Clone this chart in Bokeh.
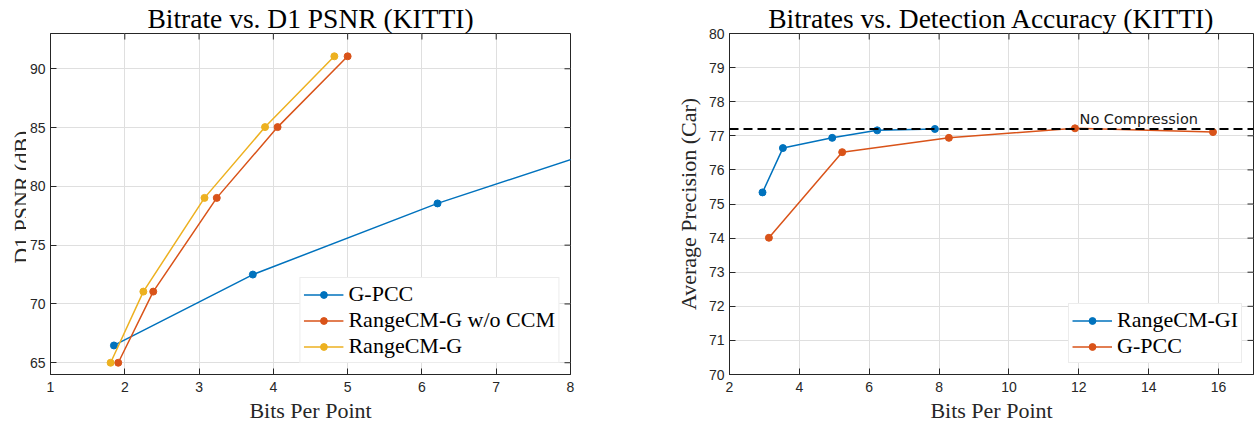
from math import pi
from bokeh.plotting import figure
from bokeh.models import FixedTicker, Label, Legend, LegendItem, Span
from bokeh.layouts import row
from bokeh.embed import file_html
from bokeh.resources import INLINE

# ---------------- data: left chart (Bitrate vs. D1 PSNR) ----------------
left_xticks = [1, 2, 3, 4, 5, 6, 7, 8]
left_yticks = [65, 70, 75, 80, 85, 90]

bpp_gpcc = [1.854, 3.724, 6.21, 10.0]
psnr_gpcc = [66.47, 72.50, 78.55, 86.43]

bpp_noccm = [1.912, 2.383, 3.238, 4.057, 5.00]
psnr_noccm = [65.0, 71.05, 79.02, 85.04, 91.06]

bpp_rcmg = [1.809, 2.250, 3.073, 3.888, 4.821]
psnr_rcmg = [65.0, 71.05, 79.02, 85.04, 91.06]

# ---------------- data: right chart (Bitrates vs. Detection Accuracy) ----------------
right_xticks = [2, 4, 6, 8, 10, 12, 14, 16]
right_yticks = [70, 71, 72, 73, 74, 75, 76, 77, 78, 79, 80]

bpp_gi = [2.945, 3.529, 4.94, 6.228, 7.88]
ap_gi = [75.34, 76.64, 76.94, 77.16, 77.20]

bpp_gpcc_r = [3.128, 5.226, 8.28, 11.89, 15.84]
ap_gpcc_r = [74.01, 76.52, 76.94, 77.22, 77.11]

no_compression_ap = 77.2

BLUE = "#0072BD"
ORANGE = "#D95319"
YELLOW = "#EDB120"
AXC = "#262626"
SERIF = "Liberation Serif"
SANS = "Liberation Sans"
H = 425
LAB_W = 26


def make_fig(title, xlabel, ylabel, xr, yr, xticks, yticks, width, bl, br):
    p = figure(width=width, height=H, x_range=xr, y_range=yr,
               min_border_left=bl, min_border_right=br, min_border_top=31,
               min_border_bottom=47, output_backend="svg", toolbar_location=None,
               background_fill_color="white", border_fill_color="white")
    p.title.text = title
    p.title.text_font = SERIF
    p.title.text_font_size = "27.5px"
    p.title.text_font_style = "normal"
    p.title.text_color = "#000000"
    p.title.align = "center"
    p.title.standoff = 0
    p.outline_line_color = AXC
    p.outline_line_width = 1
    for ax, ticks, lab, std in ((p.xaxis[0], xticks, xlabel, 7),
                                (p.yaxis[0], yticks, ylabel, 5)):
        ax.ticker = FixedTicker(ticks=ticks)
        ax.major_tick_in = 6
        ax.major_tick_out = 0
        ax.minor_tick_line_color = None
        ax.axis_line_color = AXC
        ax.major_tick_line_color = AXC
        ax.major_label_text_font = SANS
        ax.major_label_text_font_size = "14px"
        ax.major_label_text_color = AXC
        ax.major_label_standoff = std
        if lab:
            ax.axis_label = lab
            ax.axis_label_text_font = SERIF
            ax.axis_label_text_font_size = "22px"
            ax.axis_label_text_font_style = "normal"
            ax.axis_label_text_color = AXC
            ax.axis_label_standoff = 3 if ax is p.xaxis[0] else 5
    # inward ticks on the top and right edges (half of each dash is clipped by the frame)
    p.scatter(xticks, [yr[1]] * len(xticks), marker="dash", angle=pi / 2, size=12,
              line_color=AXC, line_width=1)
    p.scatter([xr[1]] * len(yticks), yticks, marker="dash", angle=0, size=12,
              line_color=AXC, line_width=1)
    p.xgrid.ticker = FixedTicker(ticks=xticks)
    p.ygrid.ticker = FixedTicker(ticks=yticks)
    p.grid.grid_line_color = "#dfdfdf"
    p.grid.grid_line_width = 1
    return p


def series(p, xs, ys, color):
    l = p.line(xs, ys, line_color=color, line_width=1.5)
    s = p.scatter(xs, ys, size=7, fill_color=color, line_color=color)
    return [l, s]


def add_legend(p, items):
    lg = Legend(items=[LegendItem(label=t, renderers=r) for t, r in items],
                location="bottom_right", label_text_font=SERIF, label_text_font_size="22px",
                label_text_color="#000000", glyph_width=40, glyph_height=17, label_height=26,
                label_standoff=5, padding=3, spacing=0, margin=11,
                border_line_color="#d9d9d9", border_line_width=1,
                background_fill_color="white", background_fill_alpha=1.0)
    p.add_layout(lg)


# ---------------- narrow strip carrying the left y-axis label ----------------
ylab1 = figure(width=LAB_W, height=H, x_range=(0, LAB_W), y_range=(0, H),
               x_axis_type=None, y_axis_type=None, min_border=0, title=None,
               output_backend="svg", toolbar_location=None,
               background_fill_color="white", border_fill_color="white")
ylab1.outline_line_color = None
ylab1.grid.visible = False
ylab1.add_layout(Label(x=20.5, y=H - 204, text="D1 PSNR (dB)", angle=pi / 2,
                       text_font=SERIF, text_font_size="22px", text_color=AXC,
                       text_align="center", text_baseline="alphabetic"))

# ---------------- left figure ----------------
p1 = make_fig("Bitrate vs. D1 PSNR (KITTI)", "Bits Per Point", None,
              (1, 8), (64, 93), left_xticks, left_yticks, 580 - LAB_W, 46 - LAB_W, 10)
r_gpcc = series(p1, bpp_gpcc, psnr_gpcc, BLUE)
r_noccm = series(p1, bpp_noccm, psnr_noccm, ORANGE)
r_rcmg = series(p1, bpp_rcmg, psnr_rcmg, YELLOW)
add_legend(p1, [("G-PCC", r_gpcc), ("RangeCM-G w/o CCM", r_noccm), ("RangeCM-G", r_rcmg)])

# ---------------- right figure ----------------
p2 = make_fig("Bitrates vs. Detection Accuracy (KITTI)", "Bits Per Point",
              "Average Precision (Car)", (2, 17), (70, 80), right_xticks, right_yticks,
              677, 149, 4)
p2.add_layout(Span(location=no_compression_ap, dimension="width", line_color="#000000",
                   line_width=2, line_dash="9 5"))
r_gi = series(p2, bpp_gi, ap_gi, BLUE)
r_gp = series(p2, bpp_gpcc_r, ap_gpcc_r, ORANGE)
add_legend(p2, [("RangeCM-GI", r_gi), ("G-PCC", r_gp)])
p2.add_layout(Label(x=12.02, y=77.49, text="No Compression", text_font="DejaVu Sans",
                    text_font_size="14.5px", text_color="#1a1a1a", text_align="left",
                    text_baseline="alphabetic"))

layout = row(ylab1, p1, p2)
open("out.html", "w").write(file_html(layout, INLINE))
